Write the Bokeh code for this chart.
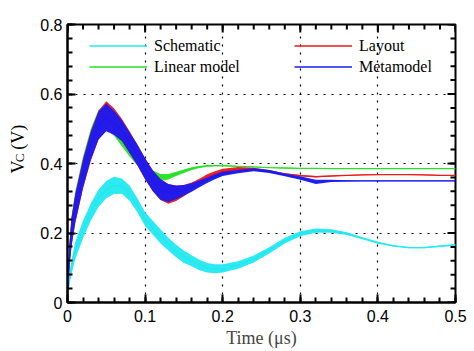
import math
from bokeh.plotting import figure
from bokeh.layouts import row
from bokeh.core.properties import value
from bokeh.models import (Range1d, FixedTicker, Legend, LegendItem, ColumnDataSource)
from bokeh.embed import file_html
from bokeh.resources import INLINE

# ---------------- data ----------------
time_us = [0, 0.002, 0.005, 0.01, 0.015, 0.02, 0.03, 0.04, 0.05, 0.06, 0.07,
           0.08, 0.09, 0.10, 0.11, 0.12, 0.13, 0.14, 0.15, 0.16, 0.17, 0.18,
           0.19, 0.20, 0.22, 0.24, 0.26, 0.28, 0.30, 0.32, 0.34, 0.36, 0.38,
           0.40, 0.42, 0.44, 0.46, 0.48, 0.50]

schematic = [0.0, 0.06, 0.10, 0.15, 0.18, 0.21, 0.26, 0.30, 0.325, 0.337, 0.335,
             0.315, 0.28, 0.24, 0.215, 0.19, 0.168, 0.148, 0.132, 0.12, 0.108,
             0.10, 0.097, 0.098, 0.108, 0.125, 0.15, 0.178, 0.198, 0.207, 0.206,
             0.198, 0.185, 0.172, 0.163, 0.158, 0.158, 0.162, 0.166]
schematic_noise = [0.0, 0.015, 0.02, 0.025, 0.025, 0.025, 0.025, 0.025, 0.025,
                   0.025, 0.022, 0.022, 0.02, 0.02, 0.02, 0.02, 0.018, 0.018,
                   0.018, 0.016, 0.015, 0.014, 0.013, 0.012, 0.011, 0.01, 0.009,
                   0.008, 0.007, 0.006, 0.005, 0.004, 0.003, 0.003, 0.002, 0.002,
                   0.002, 0.002, 0.002]

linear_model = [0.0, 0.13, 0.21, 0.285, 0.335, 0.385, 0.465, 0.52, 0.535, 0.51,
                0.475, 0.44, 0.41, 0.39, 0.37, 0.36, 0.362, 0.37, 0.378, 0.385,
                0.39, 0.393, 0.394, 0.394, 0.392, 0.39, 0.388, 0.387, 0.386,
                0.386, 0.385, 0.385, 0.385, 0.385, 0.385, 0.385, 0.385, 0.385,
                0.385]
linear_noise = [0.0, 0.03, 0.035, 0.035, 0.035, 0.035, 0.035, 0.035, 0.035, 0.03,
                0.025, 0.02, 0.016, 0.012, 0.01, 0.01, 0.008, 0.006, 0.005, 0.004,
                0.003, 0.002, 0.002, 0.002, 0.001, 0.001, 0.001, 0.001, 0.001,
                0.001, 0.001, 0.001, 0.001, 0.001, 0.001, 0.001, 0.001, 0.001,
                0.001]

layout = [0.0, 0.12, 0.2, 0.27, 0.32, 0.37, 0.45, 0.51, 0.537, 0.522, 0.497, 0.462,
          0.425, 0.385, 0.35, 0.325, 0.312, 0.314, 0.322, 0.333, 0.346, 0.36, 0.37,
          0.378, 0.385, 0.384, 0.378, 0.37, 0.365, 0.362, 0.364, 0.366, 0.367,
          0.368, 0.368, 0.368, 0.367, 0.366, 0.366]
layout_noise = [0.0, 0.032, 0.042, 0.042, 0.042, 0.042, 0.042, 0.042, 0.042, 0.037,
                0.032, 0.031, 0.03, 0.03, 0.03, 0.03, 0.028, 0.022, 0.016,
                0.012, 0.01, 0.009, 0.008, 0.007, 0.005, 0.004, 0.003, 0.002,
                0.002, 0.002, 0.001, 0.001, 0.001, 0.001, 0.001, 0.001, 0.001,
                0.001, 0.001]

metamodel = [0.0, 0.12, 0.2, 0.27, 0.32, 0.37, 0.45, 0.51, 0.533, 0.517, 0.495,
             0.46, 0.425, 0.385, 0.35, 0.325, 0.315, 0.317, 0.323, 0.331, 0.342,
             0.352, 0.362, 0.37, 0.377, 0.382, 0.377, 0.367, 0.358, 0.347, 0.35,
             0.35, 0.35, 0.35, 0.35, 0.35, 0.35, 0.35, 0.35]
metamodel_noise = [0.0, 0.03, 0.04, 0.04, 0.04, 0.04, 0.04, 0.04, 0.04, 0.035,
                   0.03, 0.03, 0.03, 0.03, 0.03, 0.03, 0.026, 0.02, 0.015, 0.012,
                   0.01, 0.008, 0.007, 0.006, 0.005, 0.004, 0.004, 0.004, 0.005,
                   0.006, 0.003, 0.002, 0.001, 0.001, 0.001, 0.001, 0.001, 0.001,
                   0.001]

x_major = [0, 0.1, 0.2, 0.3, 0.4, 0.5]
x_labels = ["0", "0.1", "0.2", "0.3", "0.4", "0.5"]
x_minor = [0.02 * i for i in range(26)]
y_major = [0, 0.2, 0.4, 0.6, 0.8]
y_labels = ["0", "0.2", "0.4", "0.6", "0.8"]
y_minor = [0.04 * i for i in range(21)]

y_title_parts = ["V", "C", "(V)"]

series = [
    ("Schematic", schematic, schematic_noise, "#22e8f0"),
    ("Linear model", linear_model, linear_noise, "#26e226"),
    ("Layout", layout, layout_noise, "#f01818"),
    ("Metamodel", metamodel, metamodel_noise, "#1a1af2"),
]

X0, X1, Y0, Y1 = 0, 0.5, 0, 0.8
W, H = 474, 351
LAB_W = 34

# ---------------- narrow strip holding the y-axis title ----------------
lab = figure(width=LAB_W, height=H, x_range=Range1d(0, LAB_W), y_range=Range1d(0, H),
             output_backend="svg", toolbar_location=None, min_border=0,
             x_axis_location=None, y_axis_location=None)
lab.outline_line_color = None
lab.grid.visible = False
lab.background_fill_color = "white"
lab.border_fill_color = "white"
# positions in the strip's own pixel-like units (bottom-up)
lab.text(x=[17, 18.5, 17], y=[H - 188, H - 174, H - 158], text=y_title_parts,
         angle=math.pi / 2, text_font=value("Liberation Serif"),
         text_font_size=["18px", "13px", "18px"], text_color="black",
         text_align="left", text_baseline="alphabetic")

# ---------------- main figure ----------------
p = figure(width=W - LAB_W, height=H, x_range=Range1d(X0, X1), y_range=Range1d(Y0, Y1),
           output_backend="svg", toolbar_location=None,
           min_border_left=67 - LAB_W, min_border_right=19, min_border_top=24,
           min_border_bottom=49)
p.background_fill_color = "white"
p.border_fill_color = "white"
p.outline_line_color = "black"
p.outline_line_width = 2

xt = FixedTicker(ticks=x_major, minor_ticks=x_minor)
yt = FixedTicker(ticks=y_major, minor_ticks=y_minor)

renderers = {}
for name, vals, noise, color in series:
    src = ColumnDataSource(dict(
        t=time_us, v=vals,
        lo=[a - b for a, b in zip(vals, noise)],
        hi=[a + b for a, b in zip(vals, noise)]))
    p.varea(x="t", y1="lo", y2="hi", source=src, fill_color=color, fill_alpha=0.95)
    renderers[name] = p.line(x="t", y="v", source=src, line_color=color, line_width=1.3)

for ax, ticker, labels in ((p.xaxis[0], xt, x_labels), (p.yaxis[0], yt, y_labels)):
    ax.ticker = ticker
    ax.axis_line_color = "black"
    ax.axis_line_width = 2
    ax.major_tick_line_color = "black"
    ax.major_tick_line_width = 2
    ax.minor_tick_line_color = "black"
    ax.minor_tick_line_width = 2
    ax.major_tick_in = 8
    ax.major_tick_out = 0
    ax.minor_tick_in = 5
    ax.minor_tick_out = 0
    ax.major_label_overrides = {t: l for t, l in zip(ticker.ticks, labels)}
    ax.major_label_text_font = "Liberation Sans"
    ax.major_label_text_font_size = "16px"
    ax.major_label_text_color = "black"

p.xaxis[0].major_label_standoff = 7
p.yaxis[0].major_label_standoff = 5
p.xaxis[0].axis_label = "Time (\u03bcs)"
p.xaxis[0].axis_label_text_font = "Liberation Serif"
p.xaxis[0].axis_label_text_font_size = "18px"
p.xaxis[0].axis_label_text_font_style = "normal"
p.xaxis[0].axis_label_standoff = 3

# inward ticks on the top and right frame edges (outer half is clipped)
p.scatter(x=x_minor, y=[Y1] * len(x_minor), marker="dash", size=10, angle=math.pi / 2,
          line_color="black", line_width=2)
p.scatter(x=x_major, y=[Y1] * len(x_major), marker="dash", size=16, angle=math.pi / 2,
          line_color="black", line_width=2)
p.scatter(x=[X1] * len(y_minor), y=y_minor, marker="dash", size=10,
          line_color="black", line_width=2)
p.scatter(x=[X1] * len(y_major), y=y_major, marker="dash", size=16,
          line_color="black", line_width=2)

for g in (p.xgrid[0], p.ygrid[0]):
    g.grid_line_color = "black"
    g.grid_line_width = 1.2
    g.grid_line_dash = "2 6"
p.xgrid[0].ticker = xt
p.ygrid[0].ticker = yt

leg_kw = dict(glyph_width=58, glyph_height=21, label_height=21, label_standoff=7,
              spacing=0, padding=0, margin=0, border_line_alpha=0,
              background_fill_alpha=0, label_text_font="Liberation Serif",
              label_text_font_size="16px", label_text_color="black")
leg1 = Legend(items=[LegendItem(label="Schematic", renderers=[renderers["Schematic"]]),
                     LegendItem(label="Linear model", renderers=[renderers["Linear model"]])],
              location=(22, 225), **leg_kw)
leg2 = Legend(items=[LegendItem(label="Layout", renderers=[renderers["Layout"]]),
                     LegendItem(label="Metamodel", renderers=[renderers["Metamodel"]])],
              location=(227, 225), **leg_kw)
p.add_layout(leg1)
p.add_layout(leg2)

page = row(lab, p, spacing=0)
open("out.html", "w").write(file_html(page, INLINE))
